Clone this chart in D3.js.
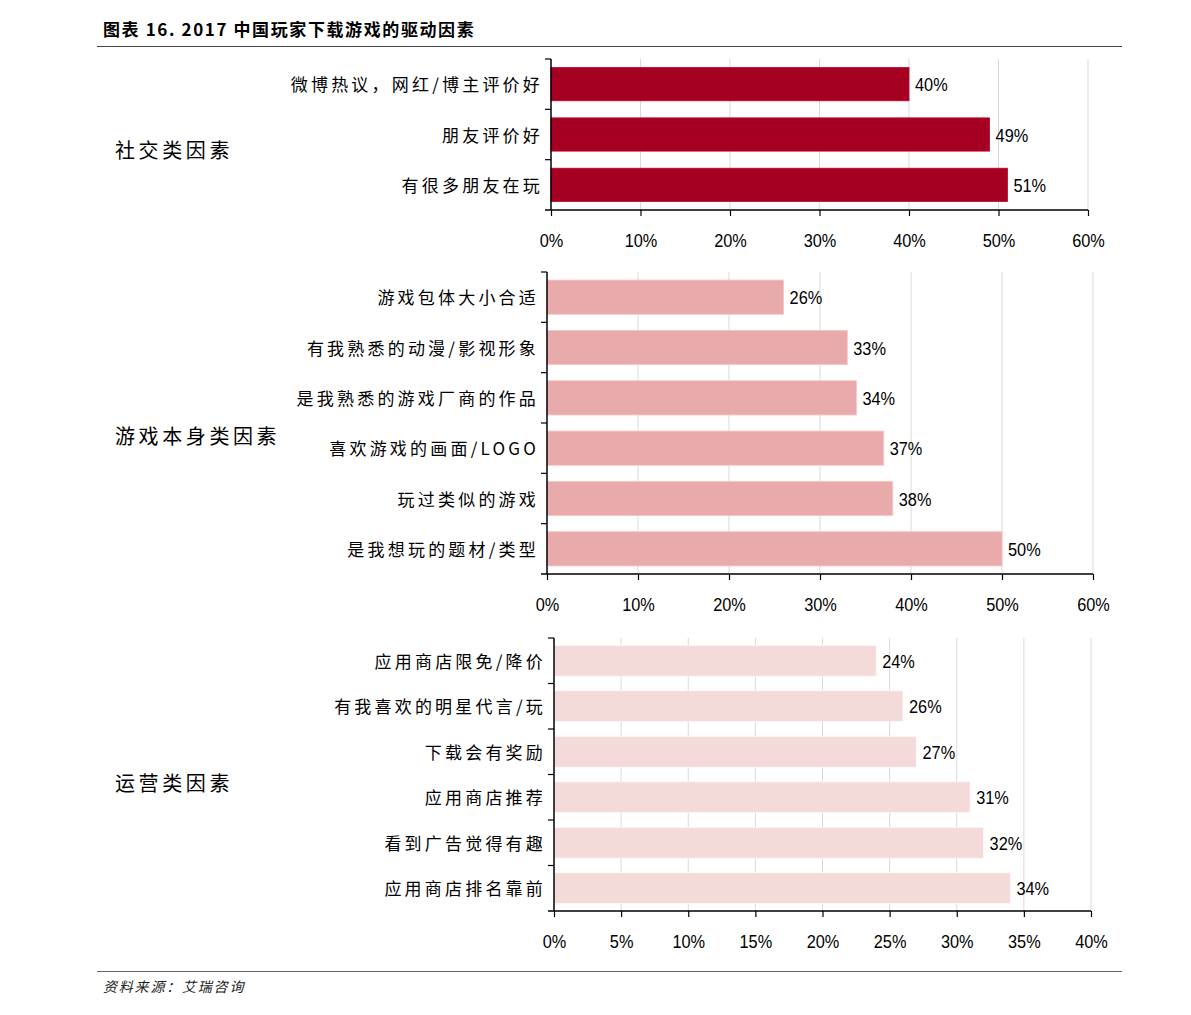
<!DOCTYPE html>
<html>
<head>
<meta charset="utf-8">
<script src="https://cdn.jsdelivr.net/npm/d3@7"></script>
<style>
  html, body { margin: 0; padding: 0; background: #fff; }
  svg { display: block; }
</style>
</head>
<body>
<div id="chart"></div>
<script>
// --- data ---
const socialCats = ["微博热议，网红/博主评价好", "朋友评价好", "有很多朋友在玩"]
const socialVals = [40, 49, 51]

const gameCats = ["游戏包体大小合适", "有我熟悉的动漫/影视形象", "是我熟悉的游戏厂商的作品", "喜欢游戏的画面/LOGO", "玩过类似的游戏", "是我想玩的题材/类型"]
const gameVals = [26, 33, 34, 37, 38, 50]

const opsCats = ["应用商店限免/降价", "有我喜欢的明星代言/玩", "下载会有奖励", "应用商店推荐", "看到广告觉得有趣", "应用商店排名靠前"]
const opsVals = [24, 26, 27, 31, 32, 34]

const groupLabels = ["社交类因素", "游戏本身类因素", "运营类因素"]
const axisMax = [60, 60, 40]
const axisStep = [10, 10, 5]

const title = "图表 16. 2017 中国玩家下载游戏的驱动因素"
const source = "资料来源：艾瑞咨询"

const W = 1191, H = 1015
const cjk = "'Noto Sans CJK SC', 'Noto Sans', sans-serif"
const num = "'Liberation Sans', Arial, sans-serif"
const sx = 0.86 // horizontal squeeze to mimic a narrow face

const svg = d3.select("#chart").append("svg")
  .attr("width", W).attr("height", H)

// Title + rules
svg.append("text")
  .attr("x", 103).attr("y", 36)
  .attr("font-family", cjk)
  .attr("font-size", 17)
  .attr("font-weight", "bold")
  .attr("letter-spacing", 1.6)
  .attr("fill", "#000")
  .text(title)

svg.append("line")
  .attr("x1", 97).attr("x2", 1122).attr("y1", 46.5).attr("y2", 46.5)
  .attr("stroke", "#444").attr("stroke-width", 1.2)

svg.append("line")
  .attr("x1", 97).attr("x2", 1122).attr("y1", 971.5).attr("y2", 971.5)
  .attr("stroke", "#666").attr("stroke-width", 1.2)

svg.append("text")
  .attr("x", 103).attr("y", 992)
  .attr("font-family", cjk)
  .attr("font-size", 14)
  .attr("letter-spacing", 1.8)
  .attr("font-style", "italic")
  .attr("fill", "#222")
  .text(source)

const panels = [
  { cats: socialCats, vals: socialVals, color: "#A50021", x0: 551, x1: 1088, y0: 59, y1: 210, labelY: 151, pad: 0.34 },
  { cats: gameCats, vals: gameVals, color: "#E8AAAA", x0: 547, x1: 1093, y0: 272, y1: 574, labelY: 437, pad: 0.32 },
  { cats: opsCats, vals: opsVals, color: "#F5DADA", x0: 554, x1: 1091, y0: 638, y1: 911, labelY: 784, pad: 0.32 }
]

panels.forEach((p, i) => {
  const g = svg.append("g")

  const x = d3.scaleLinear().domain([0, axisMax[i]]).range([p.x0, p.x1])
  const y = d3.scaleBand().domain(p.cats).range([p.y0, p.y1]).paddingInner(p.pad).paddingOuter(p.pad / 2)
  const ticks = d3.range(0, axisMax[i] + axisStep[i], axisStep[i])

  // gridlines
  g.selectAll(".grid")
    .data(ticks.slice(1))
    .enter().append("line")
    .attr("x1", d => x(d)).attr("x2", d => x(d))
    .attr("y1", p.y0).attr("y2", p.y1)
    .attr("stroke", "#d9d9d9").attr("stroke-width", 1)

  // bars
  g.selectAll(".bar")
    .data(p.vals)
    .enter().append("rect")
    .attr("x", x(0))
    .attr("y", (d, j) => y(p.cats[j]))
    .attr("width", d => x(d) - x(0))
    .attr("height", y.bandwidth())
    .attr("fill", p.color)
    .attr("stroke", d3.color(p.color).brighter(0.4))
    .attr("stroke-width", 0.8)

  // value labels
  g.selectAll(".val")
    .data(p.vals)
    .enter().append("text")
    .attr("transform", `scale(${sx},1)`)
    .attr("x", d => (x(d) + 6) / sx)
    .attr("y", (d, j) => y(p.cats[j]) + y.bandwidth() / 2)
    .attr("dy", "0.38em")
    .attr("font-family", num)
    .attr("font-size", 19)
    .attr("fill", "#000")
    .text(d => d + "%")

  // x axis
  const xAxis = g.append("g")
    .attr("transform", `translate(0,${p.y1})`)
    .call(d3.axisBottom(x).tickValues(ticks).tickFormat(d => d + "%").tickSize(6).tickSizeOuter(0))
  xAxis.select(".domain").attr("stroke", "#000").attr("stroke-width", 1.5)
    .attr("d", `M${p.x0 - 6},0H${p.x1}`)
  xAxis.selectAll(".tick line").attr("stroke", "#000").attr("stroke-width", 1.2)
  xAxis.selectAll(".tick text")
    .attr("transform", `scale(${sx},1)`)
    .attr("font-family", num)
    .attr("font-size", 19)
    .attr("fill", "#000")
    .attr("y", 24)

  // y axis (ticks between bands)
  g.append("line")
    .attr("x1", p.x0).attr("x2", p.x0)
    .attr("y1", p.y0).attr("y2", p.y1)
    .attr("stroke", "#000").attr("stroke-width", 1.5)
  g.selectAll(".ytick")
    .data(p.cats)
    .enter().append("line")
    .attr("x1", p.x0 - 6).attr("x2", p.x0)
    .attr("y1", d => y(d) - y.step() * y.paddingInner() / 2)
    .attr("y2", d => y(d) - y.step() * y.paddingInner() / 2)
    .attr("stroke", "#000").attr("stroke-width", 1.2)

  // category labels
  g.selectAll(".cat")
    .data(p.cats)
    .enter().append("text")
    .attr("x", p.x0 - 8)
    .attr("y", d => y(d) + y.bandwidth() / 2)
    .attr("dy", "0.42em")
    .attr("text-anchor", "end")
    .attr("font-family", cjk)
    .attr("font-size", 17)
    .attr("letter-spacing", 3.2)
    .attr("fill", "#000")
    .text(d => d)

  // group label
  svg.append("text")
    .attr("x", 115).attr("y", p.labelY)
    .attr("dy", "0.36em")
    .attr("font-family", cjk)
    .attr("font-size", 20)
    .attr("letter-spacing", 3.6)
    .attr("fill", "#000")
    .text(groupLabels[i])
})
</script>
</body>
</html>
